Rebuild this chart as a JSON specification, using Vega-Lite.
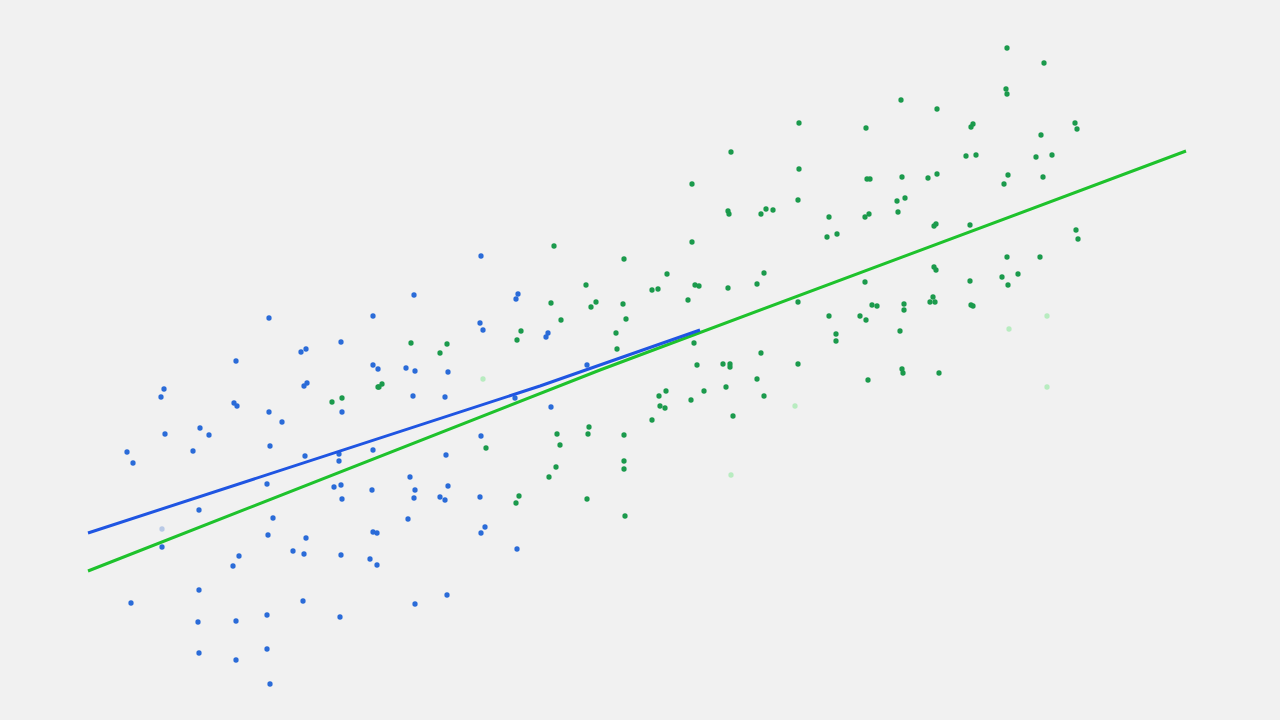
{
  "$schema": "https://vega.github.io/schema/vega-lite/v6.json",
  "width": 1280,
  "height": 720,
  "autosize": {"type": "none"},
  "padding": 0,
  "background": "#f1f1f1",
  "config": {"view": {"stroke": null}},
  "datasets": {
    "pts": [
      {"x": 269, "y": 318, "s": "blue"}, {"x": 373, "y": 316, "s": "blue"}, {"x": 236, "y": 361, "s": "blue"},
      {"x": 301, "y": 352, "s": "blue"}, {"x": 306, "y": 349, "s": "blue"}, {"x": 341, "y": 342, "s": "blue"},
      {"x": 373, "y": 365, "s": "blue"}, {"x": 378, "y": 369, "s": "blue"}, {"x": 304, "y": 386, "s": "blue"},
      {"x": 307, "y": 383, "s": "blue"}, {"x": 164, "y": 389, "s": "blue"}, {"x": 161, "y": 397, "s": "blue"},
      {"x": 234, "y": 403, "s": "blue"}, {"x": 237, "y": 406, "s": "blue"}, {"x": 342, "y": 412, "s": "blue"},
      {"x": 269, "y": 412, "s": "blue"}, {"x": 282, "y": 422, "s": "blue"}, {"x": 200, "y": 428, "s": "blue"},
      {"x": 209, "y": 435, "s": "blue"}, {"x": 165, "y": 434, "s": "blue"}, {"x": 270, "y": 446, "s": "blue"},
      {"x": 127, "y": 452, "s": "blue"}, {"x": 193, "y": 451, "s": "blue"}, {"x": 305, "y": 456, "s": "blue"},
      {"x": 373, "y": 450, "s": "blue"}, {"x": 133, "y": 463, "s": "blue"}, {"x": 339, "y": 454, "s": "blue"},
      {"x": 339, "y": 461, "s": "blue"}, {"x": 267, "y": 484, "s": "blue"}, {"x": 341, "y": 485, "s": "blue"},
      {"x": 334, "y": 487, "s": "blue"}, {"x": 372, "y": 490, "s": "blue"}, {"x": 342, "y": 499, "s": "blue"},
      {"x": 199, "y": 510, "s": "blue"}, {"x": 273, "y": 518, "s": "blue"}, {"x": 268, "y": 535, "s": "blue"},
      {"x": 373, "y": 532, "s": "blue"}, {"x": 377, "y": 533, "s": "blue"}, {"x": 306, "y": 538, "s": "blue"},
      {"x": 162, "y": 547, "s": "blue"}, {"x": 293, "y": 551, "s": "blue"}, {"x": 304, "y": 554, "s": "blue"},
      {"x": 341, "y": 555, "s": "blue"}, {"x": 239, "y": 556, "s": "blue"}, {"x": 233, "y": 566, "s": "blue"},
      {"x": 370, "y": 559, "s": "blue"}, {"x": 377, "y": 565, "s": "blue"}, {"x": 199, "y": 590, "s": "blue"},
      {"x": 131, "y": 603, "s": "blue"}, {"x": 303, "y": 601, "s": "blue"}, {"x": 267, "y": 615, "s": "blue"},
      {"x": 340, "y": 617, "s": "blue"}, {"x": 198, "y": 622, "s": "blue"}, {"x": 236, "y": 621, "s": "blue"},
      {"x": 199, "y": 653, "s": "blue"}, {"x": 267, "y": 649, "s": "blue"}, {"x": 236, "y": 660, "s": "blue"},
      {"x": 270, "y": 684, "s": "blue"}, {"x": 481, "y": 256, "s": "blue"}, {"x": 414, "y": 295, "s": "blue"},
      {"x": 518, "y": 294, "s": "blue"}, {"x": 516, "y": 299, "s": "blue"}, {"x": 480, "y": 323, "s": "blue"},
      {"x": 483, "y": 330, "s": "blue"}, {"x": 548, "y": 333, "s": "blue"}, {"x": 546, "y": 337, "s": "blue"},
      {"x": 406, "y": 368, "s": "blue"}, {"x": 415, "y": 371, "s": "blue"}, {"x": 448, "y": 372, "s": "blue"},
      {"x": 587, "y": 365, "s": "blue"}, {"x": 413, "y": 396, "s": "blue"}, {"x": 445, "y": 397, "s": "blue"},
      {"x": 515, "y": 398, "s": "blue"}, {"x": 551, "y": 407, "s": "blue"}, {"x": 481, "y": 436, "s": "blue"},
      {"x": 446, "y": 455, "s": "blue"}, {"x": 410, "y": 477, "s": "blue"}, {"x": 448, "y": 486, "s": "blue"},
      {"x": 415, "y": 490, "s": "blue"}, {"x": 414, "y": 498, "s": "blue"}, {"x": 440, "y": 497, "s": "blue"},
      {"x": 445, "y": 500, "s": "blue"}, {"x": 480, "y": 497, "s": "blue"}, {"x": 408, "y": 519, "s": "blue"},
      {"x": 485, "y": 527, "s": "blue"}, {"x": 481, "y": 533, "s": "blue"}, {"x": 517, "y": 549, "s": "blue"},
      {"x": 447, "y": 595, "s": "blue"}, {"x": 415, "y": 604, "s": "blue"},
      {"x": 162, "y": 529, "s": "blue_faint"},
      {"x": 332, "y": 402, "s": "green"}, {"x": 342, "y": 398, "s": "green"}, {"x": 378, "y": 387, "s": "green"},
      {"x": 554, "y": 246, "s": "green"}, {"x": 624, "y": 259, "s": "green"}, {"x": 667, "y": 274, "s": "green"},
      {"x": 586, "y": 285, "s": "green"}, {"x": 652, "y": 290, "s": "green"}, {"x": 658, "y": 289, "s": "green"},
      {"x": 551, "y": 303, "s": "green"}, {"x": 596, "y": 302, "s": "green"}, {"x": 591, "y": 307, "s": "green"},
      {"x": 623, "y": 304, "s": "green"}, {"x": 626, "y": 319, "s": "green"}, {"x": 561, "y": 320, "s": "green"},
      {"x": 521, "y": 331, "s": "green"}, {"x": 517, "y": 340, "s": "green"}, {"x": 616, "y": 333, "s": "green"},
      {"x": 411, "y": 343, "s": "green"}, {"x": 447, "y": 344, "s": "green"}, {"x": 617, "y": 349, "s": "green"},
      {"x": 440, "y": 353, "s": "green"}, {"x": 382, "y": 384, "s": "green"}, {"x": 379, "y": 387, "s": "green"},
      {"x": 659, "y": 396, "s": "green"}, {"x": 666, "y": 391, "s": "green"}, {"x": 660, "y": 406, "s": "green"},
      {"x": 665, "y": 408, "s": "green"}, {"x": 652, "y": 420, "s": "green"}, {"x": 589, "y": 427, "s": "green"},
      {"x": 588, "y": 434, "s": "green"}, {"x": 557, "y": 434, "s": "green"}, {"x": 624, "y": 435, "s": "green"},
      {"x": 560, "y": 445, "s": "green"}, {"x": 486, "y": 448, "s": "green"}, {"x": 556, "y": 467, "s": "green"},
      {"x": 549, "y": 477, "s": "green"}, {"x": 624, "y": 461, "s": "green"}, {"x": 624, "y": 469, "s": "green"},
      {"x": 519, "y": 496, "s": "green"}, {"x": 516, "y": 503, "s": "green"}, {"x": 587, "y": 499, "s": "green"},
      {"x": 625, "y": 516, "s": "green"}, {"x": 799, "y": 123, "s": "green"}, {"x": 866, "y": 128, "s": "green"},
      {"x": 731, "y": 152, "s": "green"}, {"x": 799, "y": 169, "s": "green"}, {"x": 867, "y": 179, "s": "green"},
      {"x": 870, "y": 179, "s": "green"}, {"x": 692, "y": 184, "s": "green"}, {"x": 798, "y": 200, "s": "green"},
      {"x": 728, "y": 211, "s": "green"}, {"x": 729, "y": 214, "s": "green"}, {"x": 761, "y": 214, "s": "green"},
      {"x": 766, "y": 209, "s": "green"}, {"x": 773, "y": 210, "s": "green"}, {"x": 829, "y": 217, "s": "green"},
      {"x": 865, "y": 217, "s": "green"}, {"x": 869, "y": 214, "s": "green"}, {"x": 827, "y": 237, "s": "green"},
      {"x": 837, "y": 234, "s": "green"}, {"x": 692, "y": 242, "s": "green"}, {"x": 764, "y": 273, "s": "green"},
      {"x": 695, "y": 285, "s": "green"}, {"x": 699, "y": 286, "s": "green"}, {"x": 728, "y": 288, "s": "green"},
      {"x": 757, "y": 284, "s": "green"}, {"x": 688, "y": 300, "s": "green"}, {"x": 865, "y": 282, "s": "green"},
      {"x": 798, "y": 302, "s": "green"}, {"x": 872, "y": 305, "s": "green"}, {"x": 877, "y": 306, "s": "green"},
      {"x": 829, "y": 316, "s": "green"}, {"x": 860, "y": 316, "s": "green"}, {"x": 866, "y": 320, "s": "green"},
      {"x": 836, "y": 334, "s": "green"}, {"x": 836, "y": 341, "s": "green"}, {"x": 694, "y": 343, "s": "green"},
      {"x": 761, "y": 353, "s": "green"}, {"x": 697, "y": 365, "s": "green"}, {"x": 723, "y": 364, "s": "green"},
      {"x": 730, "y": 364, "s": "green"}, {"x": 730, "y": 367, "s": "green"}, {"x": 798, "y": 364, "s": "green"},
      {"x": 757, "y": 379, "s": "green"}, {"x": 868, "y": 380, "s": "green"}, {"x": 704, "y": 391, "s": "green"},
      {"x": 726, "y": 387, "s": "green"}, {"x": 764, "y": 396, "s": "green"}, {"x": 691, "y": 400, "s": "green"},
      {"x": 733, "y": 416, "s": "green"}, {"x": 1007, "y": 48, "s": "green"}, {"x": 1044, "y": 63, "s": "green"},
      {"x": 1006, "y": 89, "s": "green"}, {"x": 1007, "y": 94, "s": "green"}, {"x": 901, "y": 100, "s": "green"},
      {"x": 937, "y": 109, "s": "green"}, {"x": 973, "y": 124, "s": "green"}, {"x": 971, "y": 127, "s": "green"},
      {"x": 1075, "y": 123, "s": "green"}, {"x": 1077, "y": 129, "s": "green"}, {"x": 1041, "y": 135, "s": "green"},
      {"x": 966, "y": 156, "s": "green"}, {"x": 976, "y": 155, "s": "green"}, {"x": 1036, "y": 157, "s": "green"},
      {"x": 1052, "y": 155, "s": "green"}, {"x": 902, "y": 177, "s": "green"}, {"x": 928, "y": 178, "s": "green"},
      {"x": 937, "y": 174, "s": "green"}, {"x": 1008, "y": 175, "s": "green"}, {"x": 1004, "y": 184, "s": "green"},
      {"x": 1043, "y": 177, "s": "green"}, {"x": 897, "y": 201, "s": "green"}, {"x": 905, "y": 198, "s": "green"},
      {"x": 898, "y": 212, "s": "green"}, {"x": 934, "y": 226, "s": "green"}, {"x": 936, "y": 224, "s": "green"},
      {"x": 970, "y": 225, "s": "green"}, {"x": 1076, "y": 230, "s": "green"}, {"x": 1078, "y": 239, "s": "green"},
      {"x": 1007, "y": 257, "s": "green"}, {"x": 1040, "y": 257, "s": "green"}, {"x": 934, "y": 267, "s": "green"},
      {"x": 936, "y": 270, "s": "green"}, {"x": 970, "y": 281, "s": "green"}, {"x": 1002, "y": 277, "s": "green"},
      {"x": 1018, "y": 274, "s": "green"}, {"x": 1008, "y": 285, "s": "green"}, {"x": 904, "y": 304, "s": "green"},
      {"x": 904, "y": 310, "s": "green"}, {"x": 933, "y": 297, "s": "green"}, {"x": 930, "y": 302, "s": "green"},
      {"x": 935, "y": 302, "s": "green"}, {"x": 971, "y": 305, "s": "green"}, {"x": 973, "y": 306, "s": "green"},
      {"x": 900, "y": 331, "s": "green"}, {"x": 902, "y": 369, "s": "green"}, {"x": 903, "y": 373, "s": "green"},
      {"x": 939, "y": 373, "s": "green"},
      {"x": 483, "y": 379, "s": "green_faint"}, {"x": 795, "y": 406, "s": "green_faint"},
      {"x": 731, "y": 475, "s": "green_faint"}, {"x": 1009, "y": 329, "s": "green_faint"},
      {"x": 1047, "y": 316, "s": "green_faint"}, {"x": 1047, "y": 387, "s": "green_faint"}
    ],
    "lines": [
      {"x": 88, "y": 571, "s": "green"}, {"x": 600, "y": 370, "s": "green"}, {"x": 1186, "y": 151, "s": "green"},
      {"x": 88, "y": 533, "s": "blue"}, {"x": 540, "y": 386, "s": "blue"}, {"x": 700, "y": 330, "s": "blue"}
    ]
  },
  "encoding": {
    "x": {"field": "x", "type": "quantitative", "scale": {"domain": [0, 1280], "nice": false, "zero": false}, "axis": null},
    "y": {"field": "y", "type": "quantitative", "scale": {"domain": [0, 720], "nice": false, "zero": false, "reverse": true}, "axis": null}
  },
  "layer": [
    {
      "data": {"name": "pts"},
      "mark": {"type": "circle", "size": 28, "opacity": 1},
      "encoding": {
        "color": {
          "field": "s", "type": "nominal", "legend": null,
          "scale": {
            "domain": ["blue", "green", "blue_faint", "green_faint"],
            "range": ["#2a6bd8", "#1b9a4c", "#b9c9e6", "#b8ecc0"]
          }
        }
      }
    },
    {
      "data": {"name": "lines"},
      "transform": [{"filter": "datum.s === 'green'"}],
      "mark": {"type": "line", "strokeWidth": 3, "color": "#1ec22c"},
      "encoding": {}
    },
    {
      "data": {"name": "lines"},
      "transform": [{"filter": "datum.s === 'blue'"}],
      "mark": {"type": "line", "strokeWidth": 3, "color": "#1f55e2"},
      "encoding": {}
    }
  ]
}
